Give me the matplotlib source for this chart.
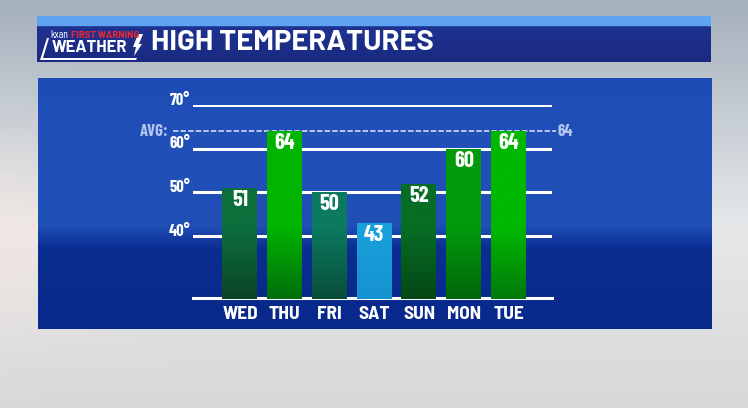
import numpy as np
import matplotlib
matplotlib.use("Agg")
import matplotlib.pyplot as plt
from matplotlib.colors import to_rgb
from matplotlib.patches import Rectangle, Polygon

days = ["WED", "THU", "FRI", "SAT", "SUN", "MON", "TUE"]
highs = [51, 64, 50, 43, 52, 60, 64]
avg_high = 64
grid_temps = [40, 50, 60, 70]
bar_top_colors = ["#0d6e3c", "#00b400", "#0b7a5e", "#1aa0dc", "#076d24", "#009a0c", "#00b800"]
bar_bottom_colors = ["#0a4526", "#006e0c", "#0a4e3a", "#1592d0", "#054816", "#00660a", "#007a0a"]

W, H = 748, 408
FONT = ["Barlow Condensed", "Roboto Condensed", "DejaVu Sans"]
FONT_SEMI = ["Barlow Semi Condensed", "Barlow Condensed", "DejaVu Sans"]
FONT_WIDE = ["Barlow", "Roboto", "DejaVu Sans"]

fig = plt.figure(figsize=(W / 100, H / 100), dpi=100)


def px_axes(x0, y0, x1, y1, **kw):
    # axes placed by pixel box (top-left origin)
    return fig.add_axes([x0 / W, 1 - y1 / H, (x1 - x0) / W, (y1 - y0) / H], **kw)


def grad(c_top, c_bot, n=256):
    t = np.linspace(0, 1, n)[:, None]
    a, b = np.array(to_rgb(c_top)), np.array(to_rgb(c_bot))
    return a * (1 - t[..., None]) + b * t[..., None]


# sky background
bg = fig.add_axes([0, 0, 1, 1])
bg.set_axis_off()
yy, xx = np.mgrid[0:1:200j, 0:1:300j]
top = np.array(to_rgb("#a4b0bc"))
mid = np.array(to_rgb("#e6e8ea"))
bot = np.array(to_rgb("#d6d8da"))
t = yy[..., None]
sky = np.where(t < 0.55, top * (1 - t / 0.55) + mid * (t / 0.55),
               mid * (1 - (t - 0.55) / 0.45) + bot * ((t - 0.55) / 0.45))
warm = np.exp(-((xx - 0.0) ** 2 / 0.02 + (yy - 0.6) ** 2 / 0.05))[..., None]
sky = sky * (1 - 0.5 * warm) + np.array(to_rgb("#f8e6dc")) * 0.5 * warm
bg.imshow(np.clip(sky, 0, 1), extent=[0, 1, 0, 1], aspect="auto")
bg.set_xlim(0, 1)
bg.set_ylim(0, 1)

# header bar
hd = px_axes(37, 16, 711, 62)
hd.set_axis_off()
hd.add_patch(Rectangle((0, 0), 674, 9, color="#5ea4f2"))
hd.imshow(grad("#1f3392", "#1a2a80", 64), extent=[0, 674, 46, 9], aspect="auto")
hd.set_xlim(0, 674)
hd.set_ylim(46, 0)
# logo frame + bolt
hd.add_patch(Polygon([[3, 44], [10, 22], [12, 22], [6, 42], [100, 42], [99, 44]], closed=True,
                     color="white", lw=0))
hd.add_patch(Polygon([[101, 18], [106, 18], [102, 28], [105, 28], [97, 40], [99, 31], [96, 31]],
                     closed=True, color="white", lw=0))
hd.text(13, 19, "kxan", color="white", fontsize=8, family=FONT, va="center")
hd.text(34, 19, "FIRST WARNING", color="#f0252d", fontsize=6.8, fontweight="bold",
        family=FONT_WIDE, va="center")
hd.text(15, 32, "WEATHER", color="white", fontsize=12, fontweight="bold", family=FONT_WIDE, va="center")
hd.text(114, 26, "HIGH TEMPERATURES", color="white", fontsize=21, fontweight="bold",
        family=FONT_WIDE, va="center")

# blue panel
pn = px_axes(38, 78, 712, 329)
pn.set_axis_off()
rows = np.linspace(78, 329, 251)
stops_y = [78, 150, 226, 248, 329]
stops_c = [to_rgb(c) for c in ["#1e4cb6", "#2150b9", "#1f4eb5", "#0b2e92", "#08288a"]]
col = np.stack([np.interp(rows, stops_y, [c[i] for c in stops_c]) for i in range(3)], axis=1)
pn.imshow(col[:, None, :], extent=[0, 1, 0, 1], aspect="auto")
pn.set_xlim(0, 1)
pn.set_ylim(0, 1)

# chart axes: gridlines span x 193..552.5, y 70 at px 105, baseline at px 298.7
ppd = (298.7 - 105) / 44.3
ymin = 70 - (298.7 - 105) / ppd
ax = px_axes(193, 105, 552.5, 298.7)
ax.set_axis_off()
ax.patch.set_alpha(0)
x = np.arange(len(days))
x0 = -47 / 44.75

for g in grid_temps:
    ax.axhline(g, color="white", lw=2.2, zorder=1)
    ax.text(-0.008, g + 0.1, f"{g}°", transform=ax.get_yaxis_transform(), ha="right",
            va="baseline", color="white", fontsize=12, fontweight="bold", family=FONT, clip_on=False)
ax.axhline(ymin + 0.25, color="white", lw=2.2, zorder=1, clip_on=False)

# average line
ax.plot([-0.055, 1.01], [avg_high, avg_high], transform=ax.get_yaxis_transform(),
        color="#c4d2f0", lw=1.3, ls=(0, (3, 1.2)), zorder=1.5, clip_on=False)
ax.text(-0.068, avg_high, "AVG:", transform=ax.get_yaxis_transform(), ha="right", va="center",
        color="#b4c6ee", fontsize=12, fontweight="bold", family=FONT, clip_on=False)
ax.text(1.013, avg_high, "64", transform=ax.get_yaxis_transform(), ha="left", va="center",
        color="#b4c6ee", fontsize=12, fontweight="bold", family=FONT, clip_on=False)

bw = 35 / 44.75
bars = ax.bar(x, [h - ymin for h in highs], bottom=ymin, width=bw, color=bar_top_colors, zorder=2)
for i, (b, h) in enumerate(zip(bars, highs)):
    vals = np.linspace(h, ymin, 128)
    f = np.clip((42 - vals) / (42 - ymin), 0, 1)[:, None]
    ct, cb = np.array(to_rgb(bar_top_colors[i])), np.array(to_rgb(bar_bottom_colors[i]))
    img = ct * (1 - f) + cb * f
    im = ax.imshow(img[:, None, :], extent=[i - bw / 2, i + bw / 2, ymin, h], aspect="auto", zorder=2.5)
    im.set_clip_path(b)
    ax.text(i, h - 2.75, str(h), ha="center", va="center", color="white", fontsize=16,
            fontweight="bold", family=FONT, zorder=3)
    ax.text(i, ymin - 3.5, days[i], ha="center", va="center", color="white", fontsize=14,
            fontweight="bold", family=FONT_SEMI, clip_on=False)
ax.set_xlim(x0, x0 + 359.5 / 44.75)
ax.set_ylim(ymin, 70)

fig.savefig("out.png", dpi=100)
